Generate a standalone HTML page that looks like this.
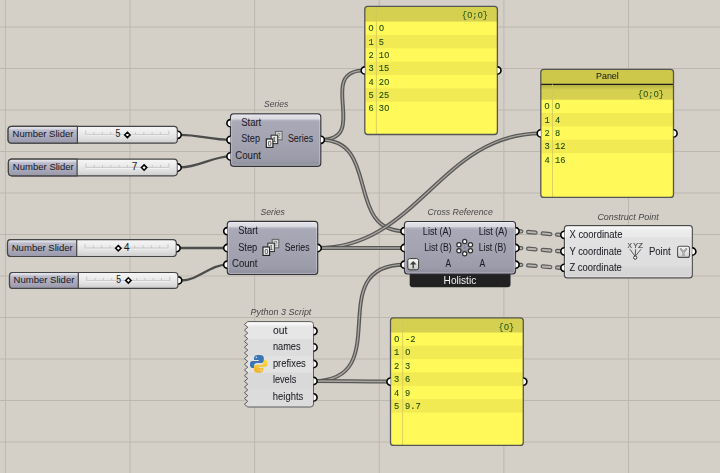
<!DOCTYPE html>
<html><head><meta charset="utf-8"><style>
html,body{margin:0;padding:0;background:#d4d0c8;width:720px;height:473px;overflow:hidden}
</style></head><body>
<svg width="720" height="473" viewBox="0 0 720 473" style="display:block"><defs><linearGradient id="gComp" x1="0" y1="0" x2="0" y2="1"><stop offset="0" stop-color="#e6e6ec"/><stop offset="0.05" stop-color="#dadae2"/><stop offset="0.1" stop-color="#c2c2ce"/><stop offset="0.14" stop-color="#acacba"/><stop offset="0.5" stop-color="#a5a5b4"/><stop offset="0.9" stop-color="#9a9aa8"/><stop offset="1" stop-color="#8c8c9a"/></linearGradient><linearGradient id="gLight" x1="0" y1="0" x2="0" y2="1"><stop offset="0" stop-color="#ffffff"/><stop offset="0.05" stop-color="#f6f6f6"/><stop offset="0.12" stop-color="#e9e9e9"/><stop offset="0.6" stop-color="#e2e2e2"/><stop offset="1" stop-color="#d6d6d6"/></linearGradient><linearGradient id="gSlider" x1="0" y1="0" x2="0" y2="1"><stop offset="0" stop-color="#f6f6f6"/><stop offset="0.3" stop-color="#eeeeee"/><stop offset="0.7" stop-color="#e0e0e0"/><stop offset="1" stop-color="#cccccc"/></linearGradient><linearGradient id="gLabel" x1="0" y1="0" x2="0" y2="1"><stop offset="0" stop-color="#e6e6ee"/><stop offset="0.12" stop-color="#dcdce6"/><stop offset="0.22" stop-color="#bcbccb"/><stop offset="0.6" stop-color="#aaaabc"/><stop offset="1" stop-color="#9898aa"/></linearGradient><linearGradient id="gRow" x1="0" y1="0" x2="0" y2="1"><stop offset="0" stop-color="#ececec"/><stop offset="1" stop-color="#dcdcdc"/></linearGradient><linearGradient id="gPyY" x1="0" y1="0" x2="0" y2="1"><stop offset="0" stop-color="#fcdc3c"/><stop offset="1" stop-color="#f0b030"/></linearGradient><linearGradient id="gC1" x1="0" y1="0" x2="0" y2="1"><stop offset="0" stop-color="#f2f2f6"/><stop offset="0.02285714285714285" stop-color="#e2e2e8"/><stop offset="0.09523809523809522" stop-color="#dadae1"/><stop offset="0.12571428571428567" stop-color="#b2b2c0"/><stop offset="0.16190476190476186" stop-color="#a8a8b7"/><stop offset="0.5" stop-color="#a4a4b3"/><stop offset="0.88" stop-color="#9b9ba9"/><stop offset="1" stop-color="#8c8c9a"/></linearGradient><linearGradient id="gC2" x1="0" y1="0" x2="0" y2="1"><stop offset="0" stop-color="#f2f2f6"/><stop offset="0.022598870056497175" stop-color="#e2e2e8"/><stop offset="0.09416195856873824" stop-color="#dadae1"/><stop offset="0.12429378531073447" stop-color="#b2b2c0"/><stop offset="0.160075329566855" stop-color="#a8a8b7"/><stop offset="0.5" stop-color="#a4a4b3"/><stop offset="0.88" stop-color="#9b9ba9"/><stop offset="1" stop-color="#8c8c9a"/></linearGradient><linearGradient id="gC3" x1="0" y1="0" x2="0" y2="1"><stop offset="0" stop-color="#f2f2f6"/><stop offset="0.022857142857142857" stop-color="#e2e2e8"/><stop offset="0.09523809523809523" stop-color="#dadae1"/><stop offset="0.1257142857142857" stop-color="#b2b2c0"/><stop offset="0.1619047619047619" stop-color="#a8a8b7"/><stop offset="0.5" stop-color="#a4a4b3"/><stop offset="0.88" stop-color="#9b9ba9"/><stop offset="1" stop-color="#8c8c9a"/></linearGradient><linearGradient id="gBtn" x1="0" y1="0" x2="0" y2="1"><stop offset="0" stop-color="#fafafa"/><stop offset="0.5" stop-color="#e4e4e4"/><stop offset="1" stop-color="#c4c4c4"/></linearGradient><linearGradient id="gCP" x1="0" y1="0" x2="0" y2="1"><stop offset="0" stop-color="#ffffff"/><stop offset="0.0363" stop-color="#f6f6f6"/><stop offset="0.1033" stop-color="#ececec"/><stop offset="0.2180" stop-color="#eaeaea"/><stop offset="0.2294" stop-color="#e2e2e2"/><stop offset="0.7763" stop-color="#dedede"/><stop offset="0.7878" stop-color="#d8d8d8"/><stop offset="1" stop-color="#d4d4d4"/></linearGradient><linearGradient id="gYB" x1="0" y1="0" x2="0" y2="1"><stop offset="0" stop-color="#fafafa"/><stop offset="0.5" stop-color="#e6e6e6"/><stop offset="1" stop-color="#cfcfcf"/></linearGradient><linearGradient id="gPyTop" x1="0" y1="0" x2="0" y2="1"><stop offset="0" stop-color="#ffffff"/><stop offset="0.5" stop-color="#f4f4f4"/><stop offset="1" stop-color="#e6e6e6"/></linearGradient><linearGradient id="gPShadow" x1="0" y1="0" x2="0" y2="1"><stop offset="0" stop-color="#b4ae42"/><stop offset="1" stop-color="#d6d050"/></linearGradient></defs><g stroke="#bcb8b0" stroke-width="1"><line x1="5.40" y1="0" x2="5.40" y2="473"/><line x1="130.02" y1="0" x2="130.02" y2="473"/><line x1="254.64" y1="0" x2="254.64" y2="473"/><line x1="379.26" y1="0" x2="379.26" y2="473"/><line x1="503.88" y1="0" x2="503.88" y2="473"/><line x1="628.50" y1="0" x2="628.50" y2="473"/><line x1="0" y1="27.00" x2="720" y2="27.00"/><line x1="0" y1="68.50" x2="720" y2="68.50"/><line x1="0" y1="110.00" x2="720" y2="110.00"/><line x1="0" y1="151.50" x2="720" y2="151.50"/><line x1="0" y1="193.00" x2="720" y2="193.00"/><line x1="0" y1="234.50" x2="720" y2="234.50"/><line x1="0" y1="276.00" x2="720" y2="276.00"/><line x1="0" y1="317.50" x2="720" y2="317.50"/><line x1="0" y1="359.00" x2="720" y2="359.00"/><line x1="0" y1="400.50" x2="720" y2="400.50"/><line x1="0" y1="442.00" x2="720" y2="442.00"/></g>
<path d="M180.5,134.8 C198.5,134.8 212.5,139.8 230.5,139.8" fill="none" stroke="#4c4c4c" stroke-width="2.3"/>
<path d="M180.5,167.4 C198.5,167.4 212.5,156.4 230.5,156.4" fill="none" stroke="#4c4c4c" stroke-width="2.3"/>
<path d="M179.5,248.0 C204.5,248.0 202.3,248.0 227.3,248.0" fill="none" stroke="#4c4c4c" stroke-width="2.3"/>
<path d="M181.0,280.5 C199.0,280.5 209.3,264.7 227.3,264.7" fill="none" stroke="#4c4c4c" stroke-width="2.3"/>
<path d="M320.8,139.8 C370.8,139.8 314.8,70.4 364.8,70.4" fill="none" stroke="#575757" stroke-width="3.9"/>
<path d="M320.8,139.8 C370.8,139.8 314.8,70.4 364.8,70.4" fill="none" stroke="#aaa69f" stroke-width="1.3"/>
<path d="M320.8,139.8 C380.8,139.8 344.5,231.2 404.5,231.2" fill="none" stroke="#575757" stroke-width="3.9"/>
<path d="M320.8,139.8 C380.8,139.8 344.5,231.2 404.5,231.2" fill="none" stroke="#aaa69f" stroke-width="1.3"/>
<path d="M317.7,248.0 C417.7,248.0 440.79999999999995,133.4 540.8,133.4" fill="none" stroke="#575757" stroke-width="3.9"/>
<path d="M317.7,248.0 C417.7,248.0 440.79999999999995,133.4 540.8,133.4" fill="none" stroke="#aaa69f" stroke-width="1.3"/>
<path d="M317.7,248.0 C367.7,248.0 354.5,248.0 404.5,248.0" fill="none" stroke="#575757" stroke-width="3.9"/>
<path d="M317.7,248.0 C367.7,248.0 354.5,248.0 404.5,248.0" fill="none" stroke="#aaa69f" stroke-width="1.3"/>
<path d="M313.5,381.0 C397.5,381.0 320.5,264.7 404.5,264.7" fill="none" stroke="#575757" stroke-width="3.9"/>
<path d="M313.5,381.0 C397.5,381.0 320.5,264.7 404.5,264.7" fill="none" stroke="#aaa69f" stroke-width="1.3"/>
<path d="M313.5,381.0 C353.5,381.0 350.5,381.5 390.5,381.5" fill="none" stroke="#575757" stroke-width="3.9"/>
<path d="M313.5,381.0 C353.5,381.0 350.5,381.5 390.5,381.5" fill="none" stroke="#aaa69f" stroke-width="1.3"/>
<path d="M515.5,231.2 C525.28,231.2 554.62,235.0 564.4,235.0" fill="none" stroke="#5a5a5a" stroke-width="4.3" stroke-dasharray="7.5 6.9" stroke-dashoffset="1.6" stroke-linecap="round"/>
<path d="M515.5,231.2 C525.28,231.2 554.62,235.0 564.4,235.0" fill="none" stroke="#bab6ae" stroke-width="1.9" stroke-dasharray="7.5 6.9" stroke-dashoffset="1.6" stroke-linecap="round"/>
<path d="M515.5,248.0 C525.28,248.0 554.62,251.3 564.4,251.3" fill="none" stroke="#5a5a5a" stroke-width="4.3" stroke-dasharray="7.5 6.9" stroke-dashoffset="1.6" stroke-linecap="round"/>
<path d="M515.5,248.0 C525.28,248.0 554.62,251.3 564.4,251.3" fill="none" stroke="#bab6ae" stroke-width="1.9" stroke-dasharray="7.5 6.9" stroke-dashoffset="1.6" stroke-linecap="round"/>
<path d="M515.5,264.7 C525.28,264.7 554.62,267.8 564.4,267.8" fill="none" stroke="#5a5a5a" stroke-width="4.3" stroke-dasharray="7.5 6.9" stroke-dashoffset="1.6" stroke-linecap="round"/>
<path d="M515.5,264.7 C525.28,264.7 554.62,267.8 564.4,267.8" fill="none" stroke="#bab6ae" stroke-width="1.9" stroke-dasharray="7.5 6.9" stroke-dashoffset="1.6" stroke-linecap="round"/>
<rect x="8.1" y="126.4" width="169.30" height="16.80" rx="3.5" fill="url(#gSlider)" stroke="#454545" stroke-width="1.2"/>
<path d="M11.6,126.4 H77.4 V143.2 H11.6 A3.5,3.5 0 0 1 8.1,139.7 V129.9 A3.5,3.5 0 0 1 11.6,126.4 Z" fill="url(#gLabel)" stroke="#454545" stroke-width="1.2"/>
<text x="12.57" y="137.20" font-family='"Liberation Sans", sans-serif' font-size="9.80" fill="#1c1c24" stroke="#1c1c24" stroke-width="0.05" textLength="60.89" lengthAdjust="spacingAndGlyphs" style="">Number Slider</text>
<g stroke="#ffffff" stroke-width="0.8" opacity="0.8"><line x1="85.7" y1="135.6" x2="168.7" y2="135.6"/></g>
<g stroke="#c4c4c4" stroke-width="0.9"><line x1="85.7" y1="134.7" x2="168.7" y2="134.7"/><line x1="85.7" y1="130.7" x2="85.7" y2="134.7"/><line x1="94.0" y1="132.1" x2="94.0" y2="134.7"/><line x1="102.3" y1="132.1" x2="102.3" y2="134.7"/><line x1="110.6" y1="132.1" x2="110.6" y2="134.7"/><line x1="118.9" y1="132.1" x2="118.9" y2="134.7"/><line x1="127.2" y1="132.1" x2="127.2" y2="134.7"/><line x1="135.5" y1="132.1" x2="135.5" y2="134.7"/><line x1="143.8" y1="132.1" x2="143.8" y2="134.7"/><line x1="152.1" y1="132.1" x2="152.1" y2="134.7"/><line x1="160.4" y1="132.1" x2="160.4" y2="134.7"/><line x1="168.7" y1="130.7" x2="168.7" y2="134.7"/></g>
<text x="115.45" y="137.20" font-family='"Liberation Sans", sans-serif' font-size="10.20" fill="#1c1c24" stroke="#1c1c24" stroke-width="0.05" textLength="4.93" lengthAdjust="spacingAndGlyphs" style="">5</text>
<path d="M127.4,132.20000000000002 L130.1,134.9 L127.4,137.6 L124.7,134.9 Z" fill="#fff" stroke="#000" stroke-width="1.5"/>
<path d="M177.6,131.20000000000002 A3.6,3.6 0 0 1 177.6,138.4" fill="#fff" stroke="#000" stroke-width="1.6"/>
<rect x="8.4" y="159.2" width="169.00" height="16.60" rx="3.5" fill="url(#gSlider)" stroke="#454545" stroke-width="1.2"/>
<path d="M11.9,159.2 H77.1 V175.8 H11.9 A3.5,3.5 0 0 1 8.4,172.3 V162.7 A3.5,3.5 0 0 1 11.9,159.2 Z" fill="url(#gLabel)" stroke="#454545" stroke-width="1.2"/>
<text x="12.87" y="170.10" font-family='"Liberation Sans", sans-serif' font-size="9.80" fill="#1c1c24" stroke="#1c1c24" stroke-width="0.05" textLength="60.89" lengthAdjust="spacingAndGlyphs" style="">Number Slider</text>
<g stroke="#ffffff" stroke-width="0.8" opacity="0.8"><line x1="85.9" y1="168.3" x2="168.9" y2="168.3"/></g>
<g stroke="#c4c4c4" stroke-width="0.9"><line x1="85.9" y1="167.4" x2="168.9" y2="167.4"/><line x1="85.9" y1="163.4" x2="85.9" y2="167.4"/><line x1="94.2" y1="164.8" x2="94.2" y2="167.4"/><line x1="102.5" y1="164.8" x2="102.5" y2="167.4"/><line x1="110.8" y1="164.8" x2="110.8" y2="167.4"/><line x1="119.1" y1="164.8" x2="119.1" y2="167.4"/><line x1="127.4" y1="164.8" x2="127.4" y2="167.4"/><line x1="135.7" y1="164.8" x2="135.7" y2="167.4"/><line x1="144.0" y1="164.8" x2="144.0" y2="167.4"/><line x1="152.3" y1="164.8" x2="152.3" y2="167.4"/><line x1="160.6" y1="164.8" x2="160.6" y2="167.4"/><line x1="168.9" y1="163.4" x2="168.9" y2="167.4"/></g>
<text x="131.78" y="170.10" font-family='"Liberation Sans", sans-serif' font-size="10.20" fill="#1c1c24" stroke="#1c1c24" stroke-width="0.05" textLength="5.63" lengthAdjust="spacingAndGlyphs" style="">7</text>
<path d="M144.1,164.9 L146.79999999999998,167.6 L144.1,170.29999999999998 L141.4,167.6 Z" fill="#fff" stroke="#000" stroke-width="1.5"/>
<path d="M177.6,163.9 A3.6,3.6 0 0 1 177.6,171.1" fill="#fff" stroke="#000" stroke-width="1.6"/>
<rect x="7.5" y="239.6" width="168.80" height="16.90" rx="3.5" fill="url(#gSlider)" stroke="#454545" stroke-width="1.2"/>
<path d="M11.0,239.6 H76.7 V256.5 H11.0 A3.5,3.5 0 0 1 7.5,253.0 V243.1 A3.5,3.5 0 0 1 11.0,239.6 Z" fill="url(#gLabel)" stroke="#454545" stroke-width="1.2"/>
<text x="11.72" y="250.70" font-family='"Liberation Sans", sans-serif' font-size="9.80" fill="#1c1c24" stroke="#1c1c24" stroke-width="0.05" textLength="61.04" lengthAdjust="spacingAndGlyphs" style="">Number Slider</text>
<g stroke="#ffffff" stroke-width="0.8" opacity="0.8"><line x1="85.0" y1="248.9" x2="168.0" y2="248.9"/></g>
<g stroke="#c4c4c4" stroke-width="0.9"><line x1="85.0" y1="248.0" x2="168.0" y2="248.0"/><line x1="85.0" y1="244.0" x2="85.0" y2="248.0"/><line x1="93.3" y1="245.4" x2="93.3" y2="248.0"/><line x1="101.6" y1="245.4" x2="101.6" y2="248.0"/><line x1="109.9" y1="245.4" x2="109.9" y2="248.0"/><line x1="118.2" y1="245.4" x2="118.2" y2="248.0"/><line x1="126.5" y1="245.4" x2="126.5" y2="248.0"/><line x1="134.8" y1="245.4" x2="134.8" y2="248.0"/><line x1="143.1" y1="245.4" x2="143.1" y2="248.0"/><line x1="151.4" y1="245.4" x2="151.4" y2="248.0"/><line x1="159.7" y1="245.4" x2="159.7" y2="248.0"/><line x1="168.0" y1="244.0" x2="168.0" y2="248.0"/></g>
<text x="123.97" y="250.70" font-family='"Liberation Sans", sans-serif' font-size="10.20" fill="#1c1c24" stroke="#1c1c24" stroke-width="0.05" textLength="5.52" lengthAdjust="spacingAndGlyphs" style="">4</text>
<path d="M118.3,245.5 L121.0,248.2 L118.3,250.89999999999998 L115.6,248.2 Z" fill="#fff" stroke="#000" stroke-width="1.5"/>
<path d="M176.5,244.45000000000002 A3.6,3.6 0 0 1 176.5,251.65" fill="#fff" stroke="#000" stroke-width="1.6"/>
<rect x="9.5" y="272.5" width="168.50" height="15.90" rx="3.5" fill="url(#gSlider)" stroke="#454545" stroke-width="1.2"/>
<path d="M13.0,272.5 H78.3 V288.4 H13.0 A3.5,3.5 0 0 1 9.5,284.9 V276.0 A3.5,3.5 0 0 1 13.0,272.5 Z" fill="url(#gLabel)" stroke="#454545" stroke-width="1.2"/>
<text x="13.62" y="283.40" font-family='"Liberation Sans", sans-serif' font-size="9.80" fill="#1c1c24" stroke="#1c1c24" stroke-width="0.05" textLength="60.74" lengthAdjust="spacingAndGlyphs" style="">Number Slider</text>
<g stroke="#ffffff" stroke-width="0.8" opacity="0.8"><line x1="86.8" y1="281.5" x2="169.8" y2="281.5"/></g>
<g stroke="#c4c4c4" stroke-width="0.9"><line x1="86.8" y1="280.6" x2="169.8" y2="280.6"/><line x1="86.8" y1="276.6" x2="86.8" y2="280.6"/><line x1="95.1" y1="278.0" x2="95.1" y2="280.6"/><line x1="103.4" y1="278.0" x2="103.4" y2="280.6"/><line x1="111.7" y1="278.0" x2="111.7" y2="280.6"/><line x1="120.0" y1="278.0" x2="120.0" y2="280.6"/><line x1="128.3" y1="278.0" x2="128.3" y2="280.6"/><line x1="136.6" y1="278.0" x2="136.6" y2="280.6"/><line x1="144.9" y1="278.0" x2="144.9" y2="280.6"/><line x1="153.2" y1="278.0" x2="153.2" y2="280.6"/><line x1="161.5" y1="278.0" x2="161.5" y2="280.6"/><line x1="169.8" y1="276.6" x2="169.8" y2="280.6"/></g>
<text x="116.35" y="283.20" font-family='"Liberation Sans", sans-serif' font-size="10.20" fill="#1c1c24" stroke="#1c1c24" stroke-width="0.05" textLength="4.81" lengthAdjust="spacingAndGlyphs" style="">5</text>
<path d="M128.35,277.7 L131.04999999999998,280.4 L128.35,283.09999999999997 L125.64999999999999,280.4 Z" fill="#fff" stroke="#000" stroke-width="1.5"/>
<path d="M178.2,276.84999999999997 A3.6,3.6 0 0 1 178.2,284.05" fill="#fff" stroke="#000" stroke-width="1.6"/>
<rect x="230.5" y="113.8" width="90.30" height="52.50" rx="3" fill="url(#gC1)" stroke="#34343c" stroke-width="1.15"/>
<rect x="231.6" y="114.89999999999999" width="88.10" height="50.30" rx="2" fill="none" stroke="#ffffff" stroke-opacity="0.35" stroke-width="0.9"/>
<text x="241.17" y="126.10" font-family='"Liberation Sans", sans-serif' font-size="10.00" fill="#1c1c24" stroke="#1c1c24" stroke-width="0.05" textLength="20.10" lengthAdjust="spacingAndGlyphs" style="">Start</text>
<text x="241.29" y="142.30" font-family='"Liberation Sans", sans-serif' font-size="10.00" fill="#1c1c24" stroke="#1c1c24" stroke-width="0.05" textLength="18.69" lengthAdjust="spacingAndGlyphs" style="">Step</text>
<text x="235.31" y="159.00" font-family='"Liberation Sans", sans-serif' font-size="10.00" fill="#1c1c24" stroke="#1c1c24" stroke-width="0.05" textLength="25.66" lengthAdjust="spacingAndGlyphs" style="">Count</text>
<text x="287.90" y="142.30" font-family='"Liberation Sans", sans-serif' font-size="10.00" fill="#1c1c24" stroke="#1c1c24" stroke-width="0.05" textLength="25.23" lengthAdjust="spacingAndGlyphs" style="">Series</text>
<g style="will-change:transform">
<text x="263.96" y="107.40" font-family='"Liberation Sans", sans-serif' font-size="9.70" fill="#484848" textLength="24.22" lengthAdjust="spacingAndGlyphs" style="font-style:italic;">Series</text>
</g>
<path d="M230.5,119.60000000000001 A3.6,3.6 0 0 0 230.5,126.8" fill="#fff" stroke="#000" stroke-width="1.6"/>
<path d="M230.5,136.20000000000002 A3.6,3.6 0 0 0 230.5,143.4" fill="#fff" stroke="#000" stroke-width="1.6"/>
<path d="M230.5,152.8 A3.6,3.6 0 0 0 230.5,160.0" fill="#fff" stroke="#000" stroke-width="1.6"/>
<path d="M320.8,136.20000000000002 A3.6,3.6 0 0 1 320.8,143.4" fill="#fff" stroke="#000" stroke-width="1.6"/>
<rect x="275.5" y="131.4" width="6.6" height="8.4" fill="#d8d8d8" stroke="#6a6a6a" stroke-width="1.1"/>
<g style="will-change:transform"><text x="278.8" y="138.4" font-family='"Liberation Sans", sans-serif' font-size="6.8" text-anchor="middle" fill="#6a6a6a">2</text></g>
<rect x="271.1" y="135.2" width="6.6" height="8.4" fill="#e6e6e6" stroke="#3a3a3a" stroke-width="1.1"/>
<g style="will-change:transform"><text x="274.4" y="142.2" font-family='"Liberation Sans", sans-serif' font-size="6.8" text-anchor="middle" fill="#3a3a3a">1</text></g>
<rect x="266.3" y="139.0" width="6.6" height="8.4" fill="#eeeeee" stroke="#1a1a1a" stroke-width="1.1"/>
<g style="will-change:transform"><text x="269.6" y="146.0" font-family='"Liberation Sans", sans-serif' font-size="6.8" text-anchor="middle" fill="#1a1a1a">0</text></g>
<rect x="227.3" y="221.4" width="90.40" height="53.10" rx="3" fill="url(#gC2)" stroke="#34343c" stroke-width="1.15"/>
<rect x="228.4" y="222.5" width="88.20" height="50.90" rx="2" fill="none" stroke="#ffffff" stroke-opacity="0.35" stroke-width="0.9"/>
<text x="238.17" y="234.40" font-family='"Liberation Sans", sans-serif' font-size="10.00" fill="#1c1c24" stroke="#1c1c24" stroke-width="0.05" textLength="19.79" lengthAdjust="spacingAndGlyphs" style="">Start</text>
<text x="238.18" y="250.70" font-family='"Liberation Sans", sans-serif' font-size="10.00" fill="#1c1c24" stroke="#1c1c24" stroke-width="0.05" textLength="19.11" lengthAdjust="spacingAndGlyphs" style="">Step</text>
<text x="232.02" y="267.10" font-family='"Liberation Sans", sans-serif' font-size="10.00" fill="#1c1c24" stroke="#1c1c24" stroke-width="0.05" textLength="25.45" lengthAdjust="spacingAndGlyphs" style="">Count</text>
<text x="284.80" y="250.70" font-family='"Liberation Sans", sans-serif' font-size="10.00" fill="#1c1c24" stroke="#1c1c24" stroke-width="0.05" textLength="24.71" lengthAdjust="spacingAndGlyphs" style="">Series</text>
<g style="will-change:transform">
<text x="260.51" y="215.25" font-family='"Liberation Sans", sans-serif' font-size="9.70" fill="#484848" textLength="24.42" lengthAdjust="spacingAndGlyphs" style="font-style:italic;">Series</text>
</g>
<path d="M227.3,227.6 A3.6,3.6 0 0 0 227.3,234.79999999999998" fill="#fff" stroke="#000" stroke-width="1.6"/>
<path d="M227.3,244.4 A3.6,3.6 0 0 0 227.3,251.6" fill="#fff" stroke="#000" stroke-width="1.6"/>
<path d="M227.3,261.09999999999997 A3.6,3.6 0 0 0 227.3,268.3" fill="#fff" stroke="#000" stroke-width="1.6"/>
<path d="M317.7,244.4 A3.6,3.6 0 0 1 317.7,251.6" fill="#fff" stroke="#000" stroke-width="1.6"/>
<rect x="272.2" y="239.4" width="6.6" height="8.4" fill="#d8d8d8" stroke="#6a6a6a" stroke-width="1.1"/>
<g style="will-change:transform"><text x="275.5" y="246.4" font-family='"Liberation Sans", sans-serif' font-size="6.8" text-anchor="middle" fill="#6a6a6a">2</text></g>
<rect x="267.8" y="243.2" width="6.6" height="8.4" fill="#e6e6e6" stroke="#3a3a3a" stroke-width="1.1"/>
<g style="will-change:transform"><text x="271.1" y="250.2" font-family='"Liberation Sans", sans-serif' font-size="6.8" text-anchor="middle" fill="#3a3a3a">1</text></g>
<rect x="263.0" y="247.0" width="6.6" height="8.4" fill="#eeeeee" stroke="#1a1a1a" stroke-width="1.1"/>
<g style="will-change:transform"><text x="266.3" y="254.0" font-family='"Liberation Sans", sans-serif' font-size="6.8" text-anchor="middle" fill="#1a1a1a">0</text></g>
<path d="M409.7,268 H510.5 V284.2 A3,3 0 0 1 507.5,287.2 H412.7 A3,3 0 0 1 409.7,284.2 Z" fill="#212121"/>
<rect x="404.5" y="221.5" width="111.00" height="52.50" rx="3" fill="url(#gC3)" stroke="#34343c" stroke-width="1.15"/>
<rect x="405.6" y="222.6" width="108.80" height="50.30" rx="2" fill="none" stroke="#ffffff" stroke-opacity="0.35" stroke-width="0.9"/>
<text x="443.57" y="283.80" font-family='"Liberation Sans", sans-serif' font-size="10.20" fill="#f0f0f0" textLength="32.70" lengthAdjust="spacingAndGlyphs" style="">Holistic</text>
<g style="will-change:transform">
<text x="427.52" y="215.00" font-family='"Liberation Sans", sans-serif' font-size="9.70" fill="#484848" textLength="65.20" lengthAdjust="spacingAndGlyphs" style="font-style:italic;">Cross Reference</text>
</g>
<text x="422.86" y="234.50" font-family='"Liberation Sans", sans-serif' font-size="10.00" fill="#1c1c24" stroke="#1c1c24" stroke-width="0.05" textLength="28.71" lengthAdjust="spacingAndGlyphs" style="">List (A)</text>
<text x="424.19" y="251.10" font-family='"Liberation Sans", sans-serif' font-size="10.00" fill="#1c1c24" stroke="#1c1c24" stroke-width="0.05" textLength="27.34" lengthAdjust="spacingAndGlyphs" style="">List (B)</text>
<text x="445.48" y="267.40" font-family='"Liberation Sans", sans-serif' font-size="10.00" fill="#1c1c24" stroke="#1c1c24" stroke-width="0.05" textLength="5.53" lengthAdjust="spacingAndGlyphs" style="">A</text>
<text x="478.66" y="234.50" font-family='"Liberation Sans", sans-serif' font-size="10.00" fill="#1c1c24" stroke="#1c1c24" stroke-width="0.05" textLength="28.71" lengthAdjust="spacingAndGlyphs" style="">List (A)</text>
<text x="478.69" y="251.10" font-family='"Liberation Sans", sans-serif' font-size="10.00" fill="#1c1c24" stroke="#1c1c24" stroke-width="0.05" textLength="27.45" lengthAdjust="spacingAndGlyphs" style="">List (B)</text>
<text x="479.38" y="267.40" font-family='"Liberation Sans", sans-serif' font-size="10.00" fill="#1c1c24" stroke="#1c1c24" stroke-width="0.05" textLength="5.73" lengthAdjust="spacingAndGlyphs" style="">A</text>
<path d="M404.5,227.6 A3.6,3.6 0 0 0 404.5,234.79999999999998" fill="#fff" stroke="#000" stroke-width="1.6"/>
<path d="M515.5,227.6 A3.6,3.6 0 0 1 515.5,234.79999999999998" fill="#fff" stroke="#000" stroke-width="1.6"/>
<path d="M404.5,244.4 A3.6,3.6 0 0 0 404.5,251.6" fill="#fff" stroke="#000" stroke-width="1.6"/>
<path d="M515.5,244.4 A3.6,3.6 0 0 1 515.5,251.6" fill="#fff" stroke="#000" stroke-width="1.6"/>
<path d="M404.5,261.09999999999997 A3.6,3.6 0 0 0 404.5,268.3" fill="#fff" stroke="#000" stroke-width="1.6"/>
<path d="M515.5,261.09999999999997 A3.6,3.6 0 0 1 515.5,268.3" fill="#fff" stroke="#000" stroke-width="1.6"/>
<g stroke="#7a7a8c" stroke-width="0.5" fill="none"><line x1="464.7" y1="241.4" x2="470.5" y2="244.79999999999998"/><line x1="464.7" y1="241.4" x2="470.5" y2="250.7"/><line x1="464.7" y1="241.4" x2="464.7" y2="253.79999999999998"/><line x1="458.9" y1="244.79999999999998" x2="464.7" y2="241.4"/><line x1="458.9" y1="244.79999999999998" x2="470.5" y2="244.79999999999998"/><line x1="458.9" y1="244.79999999999998" x2="458.9" y2="250.7"/><line x1="458.9" y1="244.79999999999998" x2="470.5" y2="250.7"/><line x1="458.9" y1="244.79999999999998" x2="464.7" y2="253.79999999999998"/><line x1="470.5" y1="244.79999999999998" x2="470.5" y2="250.7"/><line x1="458.9" y1="250.7" x2="464.7" y2="241.4"/><line x1="458.9" y1="250.7" x2="470.5" y2="244.79999999999998"/><line x1="458.9" y1="250.7" x2="470.5" y2="250.7"/><line x1="458.9" y1="250.7" x2="464.7" y2="253.79999999999998"/><line x1="464.7" y1="253.79999999999998" x2="470.5" y2="244.79999999999998"/><line x1="464.7" y1="253.79999999999998" x2="470.5" y2="250.7"/></g>
<circle cx="464.7" cy="241.4" r="2.1" fill="#f6f6f6" stroke="#303030" stroke-width="1.2"/>
<circle cx="458.9" cy="244.79999999999998" r="2.1" fill="#f6f6f6" stroke="#303030" stroke-width="1.2"/>
<circle cx="470.5" cy="244.79999999999998" r="2.1" fill="#f6f6f6" stroke="#303030" stroke-width="1.2"/>
<circle cx="458.9" cy="250.7" r="2.1" fill="#f6f6f6" stroke="#303030" stroke-width="1.2"/>
<circle cx="470.5" cy="250.7" r="2.1" fill="#f6f6f6" stroke="#303030" stroke-width="1.2"/>
<circle cx="464.7" cy="253.79999999999998" r="2.1" fill="#f6f6f6" stroke="#303030" stroke-width="1.2"/>
<rect x="407.8" y="258.6" width="10.8" height="11.2" rx="2" fill="url(#gBtn)" stroke="#3a3a3a" stroke-width="1"/>
<path d="M413.2,261.0 L416.6,264.6 H413.9 V268.2 H412.5 V264.6 H409.8 Z" fill="#3c3c3c"/>
<rect x="564.4" y="225.6" width="127.90" height="52.30" rx="3" fill="url(#gCP)" stroke="#4a4a4a" stroke-width="1.15"/>
<rect x="565.5" y="226.7" width="125.70" height="50.10" rx="2" fill="none" stroke="#ffffff" stroke-opacity="0.35" stroke-width="0.9"/>
<g style="will-change:transform">
<text x="597.40" y="219.70" font-family='"Liberation Sans", sans-serif' font-size="9.70" fill="#484848" textLength="61.38" lengthAdjust="spacingAndGlyphs" style="font-style:italic;">Construct Point</text>
</g>
<text x="569.49" y="238.40" font-family='"Liberation Sans", sans-serif' font-size="10.00" fill="#1c1c24" stroke="#1c1c24" stroke-width="0.05" textLength="52.93" lengthAdjust="spacingAndGlyphs" style="">X coordinate</text>
<text x="569.50" y="255.00" font-family='"Liberation Sans", sans-serif' font-size="10.00" fill="#1c1c24" stroke="#1c1c24" stroke-width="0.05" textLength="52.32" lengthAdjust="spacingAndGlyphs" style="">Y coordinate</text>
<text x="569.40" y="271.40" font-family='"Liberation Sans", sans-serif' font-size="10.00" fill="#1c1c24" stroke="#1c1c24" stroke-width="0.05" textLength="52.42" lengthAdjust="spacingAndGlyphs" style="">Z coordinate</text>
<text x="648.92" y="254.90" font-family='"Liberation Sans", sans-serif' font-size="10.00" fill="#1c1c24" stroke="#1c1c24" stroke-width="0.05" textLength="21.75" lengthAdjust="spacingAndGlyphs" style="">Point</text>
<path d="M564.4,231.20000000000002 A3.6,3.6 0 0 0 564.4,238.4" fill="#fff" stroke="#000" stroke-width="1.6"/>
<path d="M564.4,247.70000000000002 A3.6,3.6 0 0 0 564.4,254.9" fill="#fff" stroke="#000" stroke-width="1.6"/>
<path d="M564.4,264.2 A3.6,3.6 0 0 0 564.4,271.40000000000003" fill="#fff" stroke="#000" stroke-width="1.6"/>
<path d="M692.3,247.9 A3.6,3.6 0 0 1 692.3,255.1" fill="#fff" stroke="#000" stroke-width="1.6"/>
<g style="will-change:transform">
<text x="627.55" y="248.20" font-family='"Liberation Sans", sans-serif' font-size="6.60" fill="#4a4a4a" stroke="#4a4a4a" stroke-width="0.15" textLength="4.49" lengthAdjust="spacingAndGlyphs" style="">X</text>
<text x="633.34" y="248.20" font-family='"Liberation Sans", sans-serif' font-size="6.60" fill="#4a4a4a" stroke="#4a4a4a" stroke-width="0.15" textLength="4.82" lengthAdjust="spacingAndGlyphs" style="">Y</text>
<text x="638.14" y="248.20" font-family='"Liberation Sans", sans-serif' font-size="6.60" fill="#4a4a4a" stroke="#4a4a4a" stroke-width="0.15" textLength="5.02" lengthAdjust="spacingAndGlyphs" style="">Z</text>
</g>
<g stroke="#5a5a5a" stroke-width="1.0" stroke-linecap="round"><line x1="630.2" y1="249.6" x2="634.6" y2="255.6"/><line x1="635.6" y1="249.6" x2="635.2" y2="255.6"/><line x1="640.6" y1="249.6" x2="635.8" y2="255.6"/></g>
<circle cx="635.2" cy="257.6" r="1.6" fill="#fff" stroke="#2a2a2a" stroke-width="1"/>
<rect x="677.6" y="246.2" width="11.9" height="11.2" rx="2" fill="url(#gYB)" stroke="#505050" stroke-width="1.1"/>
<path d="M680.2,248.4 L683.5,252.2 L686.8,248.4 M683.5,252.2 V256.0" fill="none" stroke="#8a8a8a" stroke-width="2.0"/>
<path d="M680.6,248.6 L683.5,252.0 L686.4,248.6 M683.5,252.0 V255.6" fill="none" stroke="#d8d8d8" stroke-width="0.6"/>
<clipPath id="pyclip"><path d="M247.8,321.6 H310.5 A3,3 0 0 1 313.5,324.6 V404.0 A3,3 0 0 1 310.5,407.0 H247.8 L244.4,404.15 L247.8,401.31 L244.4,398.46 L247.8,395.61 L244.4,392.77 L247.8,389.92 L244.4,387.07 L247.8,384.23 L244.4,381.38 L247.8,378.53 L244.4,375.69 L247.8,372.84 L244.4,369.99 L247.8,367.15 L244.4,364.30 L247.8,361.45 L244.4,358.61 L247.8,355.76 L244.4,352.91 L247.8,350.07 L244.4,347.22 L247.8,344.37 L244.4,341.53 L247.8,338.68 L244.4,335.83 L247.8,332.99 L244.4,330.14 L247.8,327.29 L244.4,324.45 L247.8,321.60 Z"/></clipPath>
<path d="M247.8,321.6 H310.5 A3,3 0 0 1 313.5,324.6 V404.0 A3,3 0 0 1 310.5,407.0 H247.8 L244.4,404.15 L247.8,401.31 L244.4,398.46 L247.8,395.61 L244.4,392.77 L247.8,389.92 L244.4,387.07 L247.8,384.23 L244.4,381.38 L247.8,378.53 L244.4,375.69 L247.8,372.84 L244.4,369.99 L247.8,367.15 L244.4,364.30 L247.8,361.45 L244.4,358.61 L247.8,355.76 L244.4,352.91 L247.8,350.07 L244.4,347.22 L247.8,344.37 L244.4,341.53 L247.8,338.68 L244.4,335.83 L247.8,332.99 L244.4,330.14 L247.8,327.29 L244.4,324.45 L247.8,321.60 Z" fill="#e2e2e2"/>
<g clip-path="url(#pyclip)">
<rect x="244.4" y="321.6" width="69.1" height="17.8" fill="#e6e6e6"/>
<rect x="244.4" y="339.4" width="69.1" height="16.6" fill="#dddddd"/>
<rect x="244.4" y="356.0" width="69.1" height="16.5" fill="#e2e2e2"/>
<rect x="244.4" y="372.5" width="69.1" height="16.5" fill="#d9d9d9"/>
<rect x="244.4" y="389.0" width="69.1" height="17.7" fill="#dcdcdc"/>
<rect x="244.4" y="321.6" width="69.1" height="5.5" fill="url(#gPyTop)"/>
</g>
<path d="M247.8,321.6 H310.5 A3,3 0 0 1 313.5,324.6 V404.0 A3,3 0 0 1 310.5,407.0 H247.8 L244.4,404.15 L247.8,401.31 L244.4,398.46 L247.8,395.61 L244.4,392.77 L247.8,389.92 L244.4,387.07 L247.8,384.23 L244.4,381.38 L247.8,378.53 L244.4,375.69 L247.8,372.84 L244.4,369.99 L247.8,367.15 L244.4,364.30 L247.8,361.45 L244.4,358.61 L247.8,355.76 L244.4,352.91 L247.8,350.07 L244.4,347.22 L247.8,344.37 L244.4,341.53 L247.8,338.68 L244.4,335.83 L247.8,332.99 L244.4,330.14 L247.8,327.29 L244.4,324.45 L247.8,321.60 Z" fill="none" stroke="#5a5a5a" stroke-width="1.0"/>
<g style="will-change:transform">
<text x="250.52" y="315.30" font-family='"Liberation Sans", sans-serif' font-size="9.70" fill="#484848" textLength="60.86" lengthAdjust="spacingAndGlyphs" style="font-style:italic;">Python 3 Script</text>
</g>
<text x="273.07" y="333.70" font-family='"Liberation Sans", sans-serif' font-size="10.00" fill="#1c1c24" stroke="#1c1c24" stroke-width="0.05" textLength="14.31" lengthAdjust="spacingAndGlyphs" style="">out</text>
<path d="M313.5,327.5 A3.6,3.6 0 0 1 313.5,334.70000000000005" fill="#fff" stroke="#000" stroke-width="1.6"/>
<text x="272.89" y="350.10" font-family='"Liberation Sans", sans-serif' font-size="10.00" fill="#1c1c24" stroke="#1c1c24" stroke-width="0.05" textLength="27.75" lengthAdjust="spacingAndGlyphs" style="">names</text>
<path d="M313.5,343.79999999999995 A3.6,3.6 0 0 1 313.5,351.0" fill="#fff" stroke="#000" stroke-width="1.6"/>
<text x="272.89" y="366.60" font-family='"Liberation Sans", sans-serif' font-size="10.00" fill="#1c1c24" stroke="#1c1c24" stroke-width="0.05" textLength="32.95" lengthAdjust="spacingAndGlyphs" style="">prefixes</text>
<path d="M313.5,360.4 A3.6,3.6 0 0 1 313.5,367.6" fill="#fff" stroke="#000" stroke-width="1.6"/>
<text x="272.88" y="383.10" font-family='"Liberation Sans", sans-serif' font-size="10.00" fill="#1c1c24" stroke="#1c1c24" stroke-width="0.05" textLength="23.45" lengthAdjust="spacingAndGlyphs" style="">levels</text>
<path d="M313.5,377.4 A3.6,3.6 0 0 1 313.5,384.6" fill="#fff" stroke="#000" stroke-width="1.6"/>
<text x="272.85" y="399.50" font-family='"Liberation Sans", sans-serif' font-size="10.00" fill="#1c1c24" stroke="#1c1c24" stroke-width="0.05" textLength="30.39" lengthAdjust="spacingAndGlyphs" style="">heights</text>
<path d="M313.5,393.79999999999995 A3.6,3.6 0 0 1 313.5,401.0" fill="#fff" stroke="#000" stroke-width="1.6"/>
<g transform="translate(249.9,355.0) scale(0.59)">
<path d="M14.5,0 C8.5,0 7,2.6 7,5.2 V8.6 H15 V10 H4.2 C1.2,10 0,12.6 0,15.8 C0,19.3 1.3,22 4,22 H7 V18.6 C7,15.6 9.2,13.4 12,13.4 H19.6 C22,13.4 23.6,11.6 23.6,9.4 V5.2 C23.6,2 21,0 17.5,0 Z" fill="#3a75b4"/>
<path d="M15,30 C21,30 22.6,27.4 22.6,24.8 V21.4 H14.6 V20 H25.4 C28.4,20 29.6,17.4 29.6,14.2 C29.6,10.7 28.3,8 25.6,8 H23.6 V11.4 C23.6,14.4 21.4,16.6 18.6,16.6 H10.8 C8.4,16.6 6.8,18.4 6.8,20.6 V24.8 C6.8,28 9.4,30 13,30 Z" fill="url(#gPyY)"/>
<circle cx="10.8" cy="4" r="1.3" fill="#d8e4f0"/><circle cx="18.8" cy="26" r="1.3" fill="#fff4c0"/>
</g>
<rect x="364.8" y="6.4" width="132.60" height="128.10" rx="3" fill="#fff95a"/>
<path d="M367.8,6.4 H494.4 A3,3 0 0 1 497.4,9.4 V21.6 H364.8 V9.4 A3,3 0 0 1 367.8,6.4 Z" fill="#d6d050"/>
<rect x="365.40000000000003" y="34.95" width="131.40" height="13.35" fill="#f1ea52"/>
<rect x="365.40000000000003" y="61.65" width="131.40" height="13.35" fill="#f1ea52"/>
<rect x="365.40000000000003" y="88.35" width="131.40" height="13.35" fill="#f1ea52"/>
<line x1="376.4" y1="6.4" x2="376.4" y2="134.5" stroke="#d0c85a" stroke-width="0.8"/>
<rect x="364.8" y="6.4" width="132.60" height="128.10" rx="3" fill="none" stroke="#555555" stroke-width="1.3"/>
<g fill="#1f4d12" stroke="#1f4d12" stroke-width="0.1"><text x="368.58" y="31.30" font-family='"Liberation Sans", sans-serif' font-size="8.64" textLength="5.01" lengthAdjust="spacingAndGlyphs">0</text></g>
<g fill="#1f4d12" stroke="#1f4d12" stroke-width="0.1"><text x="378.98" y="31.30" font-family='"Liberation Sans", sans-serif' font-size="8.64" textLength="5.01" lengthAdjust="spacingAndGlyphs">0</text></g>
<g fill="#1f4d12" stroke="#1f4d12" stroke-width="0.1"><text x="368.40" y="44.65" font-family='"Liberation Mono", monospace' font-size="9.00" textLength="5.25" lengthAdjust="spacingAndGlyphs">1</text></g>
<g fill="#1f4d12" stroke="#1f4d12" stroke-width="0.1"><text x="378.80" y="44.65" font-family='"Liberation Mono", monospace' font-size="9.00" textLength="5.25" lengthAdjust="spacingAndGlyphs">5</text></g>
<g fill="#1f4d12" stroke="#1f4d12" stroke-width="0.1"><text x="368.40" y="58.00" font-family='"Liberation Mono", monospace' font-size="9.00" textLength="5.25" lengthAdjust="spacingAndGlyphs">2</text></g>
<g fill="#1f4d12" stroke="#1f4d12" stroke-width="0.1"><text x="378.80" y="58.00" font-family='"Liberation Mono", monospace' font-size="9.00" textLength="5.25" lengthAdjust="spacingAndGlyphs">1</text><text x="384.23" y="58.00" font-family='"Liberation Sans", sans-serif' font-size="8.64" textLength="5.01" lengthAdjust="spacingAndGlyphs">0</text></g>
<g fill="#1f4d12" stroke="#1f4d12" stroke-width="0.1"><text x="368.40" y="71.35" font-family='"Liberation Mono", monospace' font-size="9.00" textLength="5.25" lengthAdjust="spacingAndGlyphs">3</text></g>
<g fill="#1f4d12" stroke="#1f4d12" stroke-width="0.1"><text x="378.80" y="71.35" font-family='"Liberation Mono", monospace' font-size="9.00" textLength="5.25" lengthAdjust="spacingAndGlyphs">1</text><text x="384.05" y="71.35" font-family='"Liberation Mono", monospace' font-size="9.00" textLength="5.25" lengthAdjust="spacingAndGlyphs">5</text></g>
<g fill="#1f4d12" stroke="#1f4d12" stroke-width="0.1"><text x="368.40" y="84.70" font-family='"Liberation Mono", monospace' font-size="9.00" textLength="5.25" lengthAdjust="spacingAndGlyphs">4</text></g>
<g fill="#1f4d12" stroke="#1f4d12" stroke-width="0.1"><text x="378.80" y="84.70" font-family='"Liberation Mono", monospace' font-size="9.00" textLength="5.25" lengthAdjust="spacingAndGlyphs">2</text><text x="384.23" y="84.70" font-family='"Liberation Sans", sans-serif' font-size="8.64" textLength="5.01" lengthAdjust="spacingAndGlyphs">0</text></g>
<g fill="#1f4d12" stroke="#1f4d12" stroke-width="0.1"><text x="368.40" y="98.05" font-family='"Liberation Mono", monospace' font-size="9.00" textLength="5.25" lengthAdjust="spacingAndGlyphs">5</text></g>
<g fill="#1f4d12" stroke="#1f4d12" stroke-width="0.1"><text x="378.80" y="98.05" font-family='"Liberation Mono", monospace' font-size="9.00" textLength="5.25" lengthAdjust="spacingAndGlyphs">2</text><text x="384.05" y="98.05" font-family='"Liberation Mono", monospace' font-size="9.00" textLength="5.25" lengthAdjust="spacingAndGlyphs">5</text></g>
<g fill="#1f4d12" stroke="#1f4d12" stroke-width="0.1"><text x="368.40" y="111.40" font-family='"Liberation Mono", monospace' font-size="9.00" textLength="5.25" lengthAdjust="spacingAndGlyphs">6</text></g>
<g fill="#1f4d12" stroke="#1f4d12" stroke-width="0.1"><text x="378.80" y="111.40" font-family='"Liberation Mono", monospace' font-size="9.00" textLength="5.25" lengthAdjust="spacingAndGlyphs">3</text><text x="384.23" y="111.40" font-family='"Liberation Sans", sans-serif' font-size="8.64" textLength="5.01" lengthAdjust="spacingAndGlyphs">0</text></g>
<g fill="#2c5a1a" stroke="#2c5a1a" stroke-width="0.1"><text x="461.80" y="18.30" font-family='"Liberation Mono", monospace' font-size="9.00" textLength="5.25" lengthAdjust="spacingAndGlyphs">{</text><text x="467.23" y="18.30" font-family='"Liberation Sans", sans-serif' font-size="8.64" textLength="5.01" lengthAdjust="spacingAndGlyphs">0</text><text x="472.30" y="18.30" font-family='"Liberation Mono", monospace' font-size="9.00" textLength="5.25" lengthAdjust="spacingAndGlyphs">;</text><text x="477.73" y="18.30" font-family='"Liberation Sans", sans-serif' font-size="8.64" textLength="5.01" lengthAdjust="spacingAndGlyphs">0</text><text x="482.80" y="18.30" font-family='"Liberation Mono", monospace' font-size="9.00" textLength="5.25" lengthAdjust="spacingAndGlyphs">}</text></g>
<path d="M364.8,66.85000000000001 A3.6,3.6 0 0 0 364.8,74.05" fill="#fff" stroke="#000" stroke-width="1.6"/>
<path d="M497.4,66.85000000000001 A3.6,3.6 0 0 1 497.4,74.05" fill="#fff" stroke="#000" stroke-width="1.6"/>
<rect x="540.8" y="69.4" width="132.70" height="128.00" rx="3" fill="#fff95a"/>
<path d="M543.8,69.4 H670.5 A3,3 0 0 1 673.5,72.4 V84.3 H540.8 V72.4 A3,3 0 0 1 543.8,69.4 Z" fill="#cdc84a"/>
<rect x="540.8" y="84.3" width="132.70" height="15.40" fill="#d6d050"/>
<rect x="540.8" y="84.3" width="132.70" height="6" fill="url(#gPShadow)"/>
<line x1="540.8" y1="84.3" x2="673.5" y2="84.3" stroke="#1e1e1e" stroke-width="1.3"/>
<text x="596.07" y="79.20" font-family='"Liberation Sans", sans-serif' font-size="9.80" fill="#202018" stroke="#202018" stroke-width="0.05" textLength="22.72" lengthAdjust="spacingAndGlyphs" style="">Panel</text>
<rect x="541.4" y="113.05" width="131.50" height="13.35" fill="#f1ea52"/>
<rect x="541.4" y="139.75" width="131.50" height="13.35" fill="#f1ea52"/>
<line x1="552.5" y1="84.3" x2="552.5" y2="197.4" stroke="#d0c85a" stroke-width="0.8"/>
<rect x="540.8" y="69.4" width="132.70" height="128.00" rx="3" fill="none" stroke="#555555" stroke-width="1.3"/>
<g fill="#1f4d12" stroke="#1f4d12" stroke-width="0.1"><text x="544.58" y="109.40" font-family='"Liberation Sans", sans-serif' font-size="8.64" textLength="5.01" lengthAdjust="spacingAndGlyphs">0</text></g>
<g fill="#1f4d12" stroke="#1f4d12" stroke-width="0.1"><text x="555.08" y="109.40" font-family='"Liberation Sans", sans-serif' font-size="8.64" textLength="5.01" lengthAdjust="spacingAndGlyphs">0</text></g>
<g fill="#1f4d12" stroke="#1f4d12" stroke-width="0.1"><text x="544.40" y="122.75" font-family='"Liberation Mono", monospace' font-size="9.00" textLength="5.25" lengthAdjust="spacingAndGlyphs">1</text></g>
<g fill="#1f4d12" stroke="#1f4d12" stroke-width="0.1"><text x="554.90" y="122.75" font-family='"Liberation Mono", monospace' font-size="9.00" textLength="5.25" lengthAdjust="spacingAndGlyphs">4</text></g>
<g fill="#1f4d12" stroke="#1f4d12" stroke-width="0.1"><text x="544.40" y="136.10" font-family='"Liberation Mono", monospace' font-size="9.00" textLength="5.25" lengthAdjust="spacingAndGlyphs">2</text></g>
<g fill="#1f4d12" stroke="#1f4d12" stroke-width="0.1"><text x="554.90" y="136.10" font-family='"Liberation Mono", monospace' font-size="9.00" textLength="5.25" lengthAdjust="spacingAndGlyphs">8</text></g>
<g fill="#1f4d12" stroke="#1f4d12" stroke-width="0.1"><text x="544.40" y="149.45" font-family='"Liberation Mono", monospace' font-size="9.00" textLength="5.25" lengthAdjust="spacingAndGlyphs">3</text></g>
<g fill="#1f4d12" stroke="#1f4d12" stroke-width="0.1"><text x="554.90" y="149.45" font-family='"Liberation Mono", monospace' font-size="9.00" textLength="5.25" lengthAdjust="spacingAndGlyphs">1</text><text x="560.15" y="149.45" font-family='"Liberation Mono", monospace' font-size="9.00" textLength="5.25" lengthAdjust="spacingAndGlyphs">2</text></g>
<g fill="#1f4d12" stroke="#1f4d12" stroke-width="0.1"><text x="544.40" y="162.80" font-family='"Liberation Mono", monospace' font-size="9.00" textLength="5.25" lengthAdjust="spacingAndGlyphs">4</text></g>
<g fill="#1f4d12" stroke="#1f4d12" stroke-width="0.1"><text x="554.90" y="162.80" font-family='"Liberation Mono", monospace' font-size="9.00" textLength="5.25" lengthAdjust="spacingAndGlyphs">1</text><text x="560.15" y="162.80" font-family='"Liberation Mono", monospace' font-size="9.00" textLength="5.25" lengthAdjust="spacingAndGlyphs">6</text></g>
<g fill="#2c5a1a" stroke="#2c5a1a" stroke-width="0.1"><text x="637.80" y="96.60" font-family='"Liberation Mono", monospace' font-size="9.00" textLength="5.25" lengthAdjust="spacingAndGlyphs">{</text><text x="643.23" y="96.60" font-family='"Liberation Sans", sans-serif' font-size="8.64" textLength="5.01" lengthAdjust="spacingAndGlyphs">0</text><text x="648.30" y="96.60" font-family='"Liberation Mono", monospace' font-size="9.00" textLength="5.25" lengthAdjust="spacingAndGlyphs">;</text><text x="653.73" y="96.60" font-family='"Liberation Sans", sans-serif' font-size="8.64" textLength="5.01" lengthAdjust="spacingAndGlyphs">0</text><text x="658.80" y="96.60" font-family='"Liberation Mono", monospace' font-size="9.00" textLength="5.25" lengthAdjust="spacingAndGlyphs">}</text></g>
<path d="M540.8,129.8 A3.6,3.6 0 0 0 540.8,137.0" fill="#fff" stroke="#000" stroke-width="1.6"/>
<path d="M673.5,129.8 A3.6,3.6 0 0 1 673.5,137.0" fill="#fff" stroke="#000" stroke-width="1.6"/>
<rect x="390.5" y="317.8" width="132.80" height="127.60" rx="3" fill="#fff95a"/>
<path d="M393.5,317.8 H520.3 A3,3 0 0 1 523.3,320.8 V332.4 H390.5 V320.8 A3,3 0 0 1 393.5,317.8 Z" fill="#d6d050"/>
<rect x="391.1" y="345.75" width="131.60" height="13.35" fill="#f1ea52"/>
<rect x="391.1" y="372.45" width="131.60" height="13.35" fill="#f1ea52"/>
<rect x="391.1" y="399.15" width="131.60" height="13.35" fill="#f1ea52"/>
<line x1="402.6" y1="317.8" x2="402.6" y2="445.4" stroke="#d0c85a" stroke-width="0.8"/>
<rect x="390.5" y="317.8" width="132.80" height="127.60" rx="3" fill="none" stroke="#555555" stroke-width="1.3"/>
<g fill="#1f4d12" stroke="#1f4d12" stroke-width="0.1"><text x="394.28" y="342.10" font-family='"Liberation Sans", sans-serif' font-size="8.64" textLength="5.01" lengthAdjust="spacingAndGlyphs">0</text></g>
<g fill="#1f4d12" stroke="#1f4d12" stroke-width="0.1"><text x="405.00" y="342.10" font-family='"Liberation Mono", monospace' font-size="9.00" textLength="5.25" lengthAdjust="spacingAndGlyphs">-</text><text x="410.25" y="342.10" font-family='"Liberation Mono", monospace' font-size="9.00" textLength="5.25" lengthAdjust="spacingAndGlyphs">2</text></g>
<g fill="#1f4d12" stroke="#1f4d12" stroke-width="0.1"><text x="394.10" y="355.45" font-family='"Liberation Mono", monospace' font-size="9.00" textLength="5.25" lengthAdjust="spacingAndGlyphs">1</text></g>
<g fill="#1f4d12" stroke="#1f4d12" stroke-width="0.1"><text x="405.18" y="355.45" font-family='"Liberation Sans", sans-serif' font-size="8.64" textLength="5.01" lengthAdjust="spacingAndGlyphs">0</text></g>
<g fill="#1f4d12" stroke="#1f4d12" stroke-width="0.1"><text x="394.10" y="368.80" font-family='"Liberation Mono", monospace' font-size="9.00" textLength="5.25" lengthAdjust="spacingAndGlyphs">2</text></g>
<g fill="#1f4d12" stroke="#1f4d12" stroke-width="0.1"><text x="405.00" y="368.80" font-family='"Liberation Mono", monospace' font-size="9.00" textLength="5.25" lengthAdjust="spacingAndGlyphs">3</text></g>
<g fill="#1f4d12" stroke="#1f4d12" stroke-width="0.1"><text x="394.10" y="382.15" font-family='"Liberation Mono", monospace' font-size="9.00" textLength="5.25" lengthAdjust="spacingAndGlyphs">3</text></g>
<g fill="#1f4d12" stroke="#1f4d12" stroke-width="0.1"><text x="405.00" y="382.15" font-family='"Liberation Mono", monospace' font-size="9.00" textLength="5.25" lengthAdjust="spacingAndGlyphs">6</text></g>
<g fill="#1f4d12" stroke="#1f4d12" stroke-width="0.1"><text x="394.10" y="395.50" font-family='"Liberation Mono", monospace' font-size="9.00" textLength="5.25" lengthAdjust="spacingAndGlyphs">4</text></g>
<g fill="#1f4d12" stroke="#1f4d12" stroke-width="0.1"><text x="405.00" y="395.50" font-family='"Liberation Mono", monospace' font-size="9.00" textLength="5.25" lengthAdjust="spacingAndGlyphs">9</text></g>
<g fill="#1f4d12" stroke="#1f4d12" stroke-width="0.1"><text x="394.10" y="408.85" font-family='"Liberation Mono", monospace' font-size="9.00" textLength="5.25" lengthAdjust="spacingAndGlyphs">5</text></g>
<g fill="#1f4d12" stroke="#1f4d12" stroke-width="0.1"><text x="405.00" y="408.85" font-family='"Liberation Mono", monospace' font-size="9.00" textLength="5.25" lengthAdjust="spacingAndGlyphs">9</text><text x="410.25" y="408.85" font-family='"Liberation Mono", monospace' font-size="9.00" textLength="5.25" lengthAdjust="spacingAndGlyphs">.</text><text x="415.50" y="408.85" font-family='"Liberation Mono", monospace' font-size="9.00" textLength="5.25" lengthAdjust="spacingAndGlyphs">7</text></g>
<g fill="#2c5a1a" stroke="#2c5a1a" stroke-width="0.1"><text x="498.60" y="329.60" font-family='"Liberation Mono", monospace' font-size="9.00" textLength="5.25" lengthAdjust="spacingAndGlyphs">{</text><text x="504.03" y="329.60" font-family='"Liberation Sans", sans-serif' font-size="8.64" textLength="5.01" lengthAdjust="spacingAndGlyphs">0</text><text x="509.10" y="329.60" font-family='"Liberation Mono", monospace' font-size="9.00" textLength="5.25" lengthAdjust="spacingAndGlyphs">}</text></g>
<path d="M390.5,378.0 A3.6,3.6 0 0 0 390.5,385.20000000000005" fill="#fff" stroke="#000" stroke-width="1.6"/>
<path d="M523.3,378.0 A3.6,3.6 0 0 1 523.3,385.20000000000005" fill="#fff" stroke="#000" stroke-width="1.6"/></svg>
</body></html>
